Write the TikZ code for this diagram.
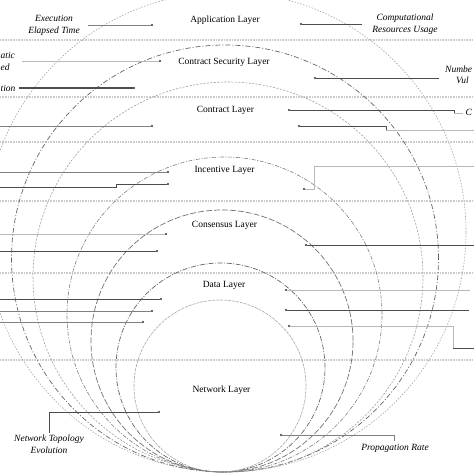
\documentclass[tikz,border=0pt]{standalone}
\usepackage{fontspec}
\setmainfont{Liberation Serif}
\begin{document}
\begin{tikzpicture}[x=1pt,y=-1pt,
  layerlbl/.style={font=\fontsize{9.5}{11}\selectfont, inner sep=0pt},
  metric/.style={font=\fontsize{9.5}{12}\selectfont\itshape, align=center, inner sep=0pt},
  dotn/.style={circle, fill=black!80, inner sep=0pt, minimum size=2.4pt},
  sep/.style={draw=black!20, line width=1.4pt, dash pattern=on 0.8pt off 0.8pt},
  dk/.style={draw=black!70, line width=0.9pt},
  md/.style={draw=black!50, line width=0.7pt},
  lt/.style={draw=black!28, line width=0.8pt},
  capp/.style={draw=black!35, line width=0.6pt, dash pattern=on 1.5pt off 1.5pt},
  csec/.style={draw=black!60, line width=0.7pt, dash pattern=on 5pt off 2pt on 1pt off 2pt},
  ccon/.style={draw=black!38, line width=0.6pt, dash pattern=on 2pt off 1.5pt},
  cinc/.style={draw=black!50, line width=0.6pt, dash pattern=on 4pt off 1.5pt on 1pt off 1.5pt},
  ccons/.style={draw=black!55, line width=0.7pt, dash pattern=on 6pt off 2pt},
  cdata/.style={draw=black!60, line width=0.7pt, dash pattern=on 5pt off 1.5pt on 1pt off 1.5pt},
  cnet/.style={draw=black!35, line width=0.6pt, dash pattern=on 3pt off 1pt}
]
\useasboundingbox (0,0) rectangle (474,474);
\fill[white] (0,0) rectangle (474,474);

% separators
\foreach \yy in {40,97,142,201,273,360} \draw[sep] (0,\yy) -- (474,\yy);

% layer circles
\draw[capp]  (226,232)   circle [radius=240pt];
\draw[csec]  (225,258.5) circle [radius=213.5pt];
\draw[ccon]  (228,277)   circle [radius=195pt];
\draw[cinc]  (224.5,314.5) circle [radius=157.5pt];
\draw[ccons] (222,341)   circle [radius=131pt];
\draw[cdata] (220.5,367.5) circle [radius=104.5pt];
\draw[cnet]  (220,386)   circle [radius=86pt];

% layer labels
\node[layerlbl] (app)  at (225,20)  {Application Layer};
\node[layerlbl] (csl)  at (224,62)  {Contract Security Layer};
\node[layerlbl] (con)  at (225.5,110) {Contract Layer};
\node[layerlbl] (inc)  at (224.5,170) {Incentive Layer};
\node[layerlbl] (cns)  at (224.5,225) {Consensus Layer};
\node[layerlbl] (dat)  at (224,285) {Data Layer};
\node[layerlbl] (net)  at (221.5,390) {Network Layer};

% metric labels
\node[metric] (m1) at (54,25) {Execution\\Elapsed Time};
\node[metric] (m2) at (405,24.5) {Computational\\Resources Usage};
\node[metric, anchor=west] (m3) at (0.5,55) {atic};
\node[metric, anchor=west] (m4) at (0.5,67) {ed};
\node[metric, anchor=west] (m5) at (0.5,88) {tion};
\node[metric, anchor=west] (m6) at (445,69) {Numbe};
\node[metric, anchor=west] (m7) at (456,80) {Vul};
\node[metric, anchor=west] (m8) at (465.5,112.5) {C};
\node[metric] (m9) at (49,444) {Network Topology\\Evolution};
\node[metric] (m10) at (395,448) {Propagation Rate};

% dots
\node[dotn] (d1)  at (152,25) {};
\node[dotn] (d2)  at (301,24) {};
\node[dotn] (d3)  at (160,61) {};
\node[dotn] (d4)  at (315,78) {};
\node[dotn] (d5)  at (134,88) {};
\node[dotn] (d6)  at (289,110) {};
\node[dotn] (d7)  at (152,126) {};
\node[dotn] (d8)  at (299,126) {};
\node[dotn] (d9)  at (168,172) {};
\node[dotn] (d10) at (168,184) {};
\node[dotn] (d11) at (304,189) {};
\node[dotn] (d12) at (166,234) {};
\node[dotn] (d13) at (157,251) {};
\node[dotn] (d14) at (306,245) {};
\node[dotn] (d15) at (161,299) {};
\node[dotn] (d16) at (286,290) {};
\node[dotn] (d17) at (286,310) {};
\node[dotn] (d18) at (152,311) {};
\node[dotn] (d19) at (143,322) {};
\node[dotn] (d20) at (289,326) {};
\node[dotn] (d21) at (159,412) {};
\node[dotn] (d22) at (281,435) {};

% free ends
\coordinate (e1) at (88,25);
\coordinate (e2) at (362,24);
\coordinate (e3) at (22,61);
\coordinate (e4) at (439,78);
\coordinate (e5) at (19,88);
\coordinate (e6a) at (454,110); \coordinate (e6b) at (454,113); \coordinate (e6c) at (463,113);
\coordinate (e7) at (0,126);
\coordinate (e8a) at (386,126); \coordinate (e8b) at (386,130); \coordinate (e8c) at (474,130);
\coordinate (e9) at (0,172);
\coordinate (e10a) at (116,184); \coordinate (e10b) at (116,187); \coordinate (e10c) at (0,187);
\coordinate (e11a) at (314,189); \coordinate (e11b) at (314,166); \coordinate (e11c) at (474,166);
\coordinate (e12) at (0,234);
\coordinate (e13) at (0,251);
\coordinate (e14) at (474,245);
\coordinate (e15) at (0,299);
\coordinate (e16) at (470,290);
\coordinate (e17) at (469,310);
\coordinate (e18) at (0,311);
\coordinate (e19) at (0,322);
\coordinate (e20a) at (453,326); \coordinate (e20b) at (453,348); \coordinate (e20c) at (474,348);
\coordinate (e21a) at (49,412); \coordinate (e21b) at (49,433);
\coordinate (e22a) at (394,435); \coordinate (e22b) at (394,441);

% connectors
\draw[md] (d1) -- (e1);
\draw[dk] (d2) -- (e2);
\draw[lt] (d3) -- (e3);
\draw[dk] (d4) -- (e4);
\draw[dk, line width=1.1pt] (d5) -- (e5);
\draw[dk] (d6) -- (e6a) -- (e6b);
\draw[lt] (e6b) -- (e6c);
\draw[md] (d7) -- (e7);
\draw[dk] (d8) -- (e8a) -- (e8b);
\draw[lt] (e8b) -- (e8c);
\draw[md] (d9) -- (e9);
\draw[dk] (d10) -- (e10a) -- (e10b) -- (e10c);
\draw[lt] (d11) -- (e11a) -- (e11b) -- (e11c);
\draw[lt] (d12) -- (e12);
\draw[dk] (d13) -- (e13);
\draw[dk] (d14) -- (e14);
\draw[dk] (d15) -- (e15);
\draw[lt] (d16) -- (e16);
\draw[dk] (d17) -- (e17);
\draw[md] (d18) -- (e18);
\draw[md] (d19) -- (e19);
\draw[lt] (d20) -- (e20a) -- (e20b);
\draw[dk] (e20b) -- (e20c);
\draw[dk] (d21) -- (e21a) -- (e21b);
\draw[md] (d22) -- (e22a) -- (e22b);
\end{tikzpicture}
\end{document}
